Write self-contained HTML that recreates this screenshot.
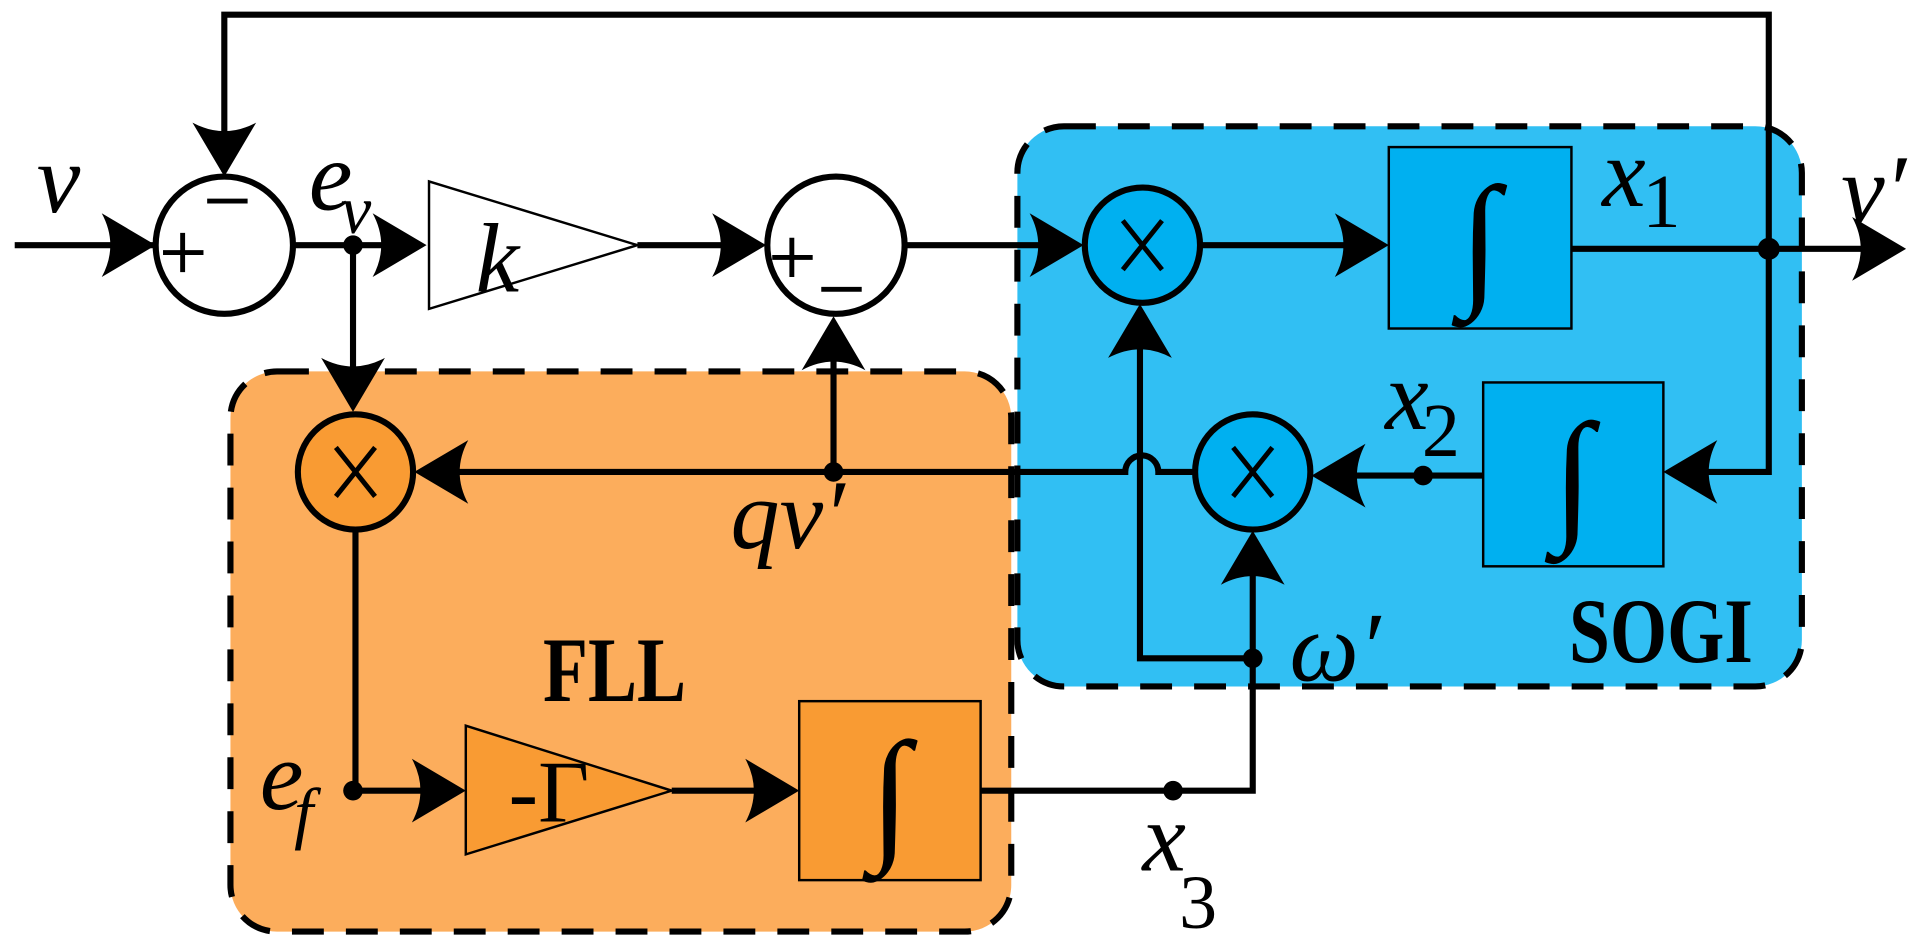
<!DOCTYPE html>
<html><head><meta charset="utf-8"><style>html,body{margin:0;padding:0;background:#fff}svg{display:block}
.t{font-family:"Liberation Serif","Times New Roman",serif}</style></head>
<body>
<svg width="1922" height="950" viewBox="0 0 1568 775" preserveAspectRatio="none" xmlns="http://www.w3.org/2000/svg">
<defs>
<path id="a" d="M0 0 L-44 -26 Q-30 0 -44 26 Z" fill="#000"/>
</defs>
<rect x="830" y="103" width="640" height="457" rx="38" fill="#31bff3" stroke="#000" stroke-width="5" stroke-dasharray="26 18"/>
<rect x="188" y="303" width="637" height="457" rx="38" fill="#fcad5c" stroke="#000" stroke-width="5" stroke-dasharray="26 18"/>
<g stroke="#000" stroke-width="5" fill="none">
<path d="M183 140 V12 H1443 V385 H1390"/>
<path d="M12 200 H127"/>
<path d="M240 200 H318"/>
<path d="M520 200 H598"/>
<path d="M740 200 H850"/>
<path d="M980 200 H1100"/>
<path d="M1282 203 H1530"/>
<path d="M288 200 V310"/>
<path d="M1210 388 H1100"/>
<path d="M975 385 H945 A12 12 0 0 0 918 385 H370"/>
<path d="M680 385 V285"/>
<path d="M290 432 V645 H355"/>
<path d="M548 645 H625"/>
<path d="M800 645 H1022 V460"/>
<path d="M1022 537 H930 V275"/>
</g>
<rect x="1133" y="120" width="149" height="148" fill="#00b0f0" stroke="#000" stroke-width="2"/>
<rect x="1210" y="312" width="147" height="150" fill="#00b0f0" stroke="#000" stroke-width="2"/>
<rect x="652" y="572" width="148" height="146" fill="#f99b33" stroke="#000" stroke-width="2"/>
<polygon points="350,148 350,252 520,200" fill="#fff" stroke="#000" stroke-width="2"/>
<polygon points="380,592 380,697 548,645" fill="#f99b33" stroke="#000" stroke-width="2"/>
<g stroke="#000" stroke-width="5">
<circle cx="183" cy="200" r="56" fill="#fff"/>
<circle cx="682" cy="200" r="56" fill="#fff"/>
<circle cx="932" cy="200" r="47" fill="#00b0f0"/>
<circle cx="1022" cy="385" r="47" fill="#00b0f0"/>
<circle cx="290" cy="385" r="47" fill="#f99b33"/>
</g>
<g stroke="#000" stroke-width="4">
<path d="M916 180 L948 220 M948 180 L916 220"/>
<path d="M1006 365 L1038 405 M1038 365 L1006 405"/>
<path d="M274 365 L306 405 M306 365 L274 405"/>
<path d="M133 206 H166 M149 190 V222"/>
<path d="M169 164 H202"/>
<path d="M630 210 H663 M646 194 V226"/>
<path d="M670 236 H703"/>
</g>
<g fill="#000">
<circle cx="288" cy="200" r="8"/><circle cx="1443" cy="203" r="9"/>
<circle cx="680" cy="385" r="8"/><circle cx="1161" cy="388" r="8"/>
<circle cx="1022" cy="537" r="8"/><circle cx="957" cy="645" r="8"/>
<circle cx="288" cy="645" r="8"/>
</g>
<use href="#a" transform="translate(127,200)"/>
<use href="#a" transform="translate(348,200)"/>
<use href="#a" transform="translate(625,200)"/>
<use href="#a" transform="translate(884,200)"/>
<use href="#a" transform="translate(1133,200)"/>
<use href="#a" transform="translate(1555,203)"/>
<use href="#a" transform="translate(183,144) rotate(90)"/>
<use href="#a" transform="translate(288,336) rotate(90)"/>
<use href="#a" transform="translate(680,258) rotate(-90)"/>
<use href="#a" transform="translate(930,248) rotate(-90)"/>
<use href="#a" transform="translate(1022,433) rotate(-90)"/>
<use href="#a" transform="translate(1357,385) rotate(180)"/>
<use href="#a" transform="translate(1070,388) rotate(180)"/>
<use href="#a" transform="translate(338,385) rotate(180)"/>
<use href="#a" transform="translate(380,645)"/>
<use href="#a" transform="translate(652,645)"/>
<g class="t" fill="#000">
<g font-size="80" font-style="italic">
<text x="30" y="173">v</text>
<text x="252" y="171">e</text>
<text x="388" y="238">k</text>
<text x="1307" y="168">x</text>
<text x="1502" y="182">v′</text>
<text x="1130" y="350">x</text>
<text x="596" y="447">qv′</text>
<text x="1052" y="555">ω′</text>
<text x="212" y="660">e</text>
<text x="932" y="710">x</text>
</g>
<g font-size="56" font-style="italic">
<text x="278" y="190">v</text>
<text x="240" y="682">f</text>
</g>
<g font-size="62">
<text x="1340" y="185">1</text>
<text x="1160" y="372">2</text>
<text x="962" y="757">3</text>
</g>
<text x="415" y="670" font-size="72">-Γ</text>
<g font-size="120" text-anchor="middle">
<text x="1207" y="235">∫</text>
<text x="1283" y="428">∫</text>
<text x="726" y="688">∫</text>
</g>
<g font-size="60" font-weight="bold">
<text transform="translate(1280,540) scale(1,1.25)">SOGI</text>
<text transform="translate(443,572) scale(1,1.25)">FLL</text>
</g>
</g>
</svg>
</body></html>
